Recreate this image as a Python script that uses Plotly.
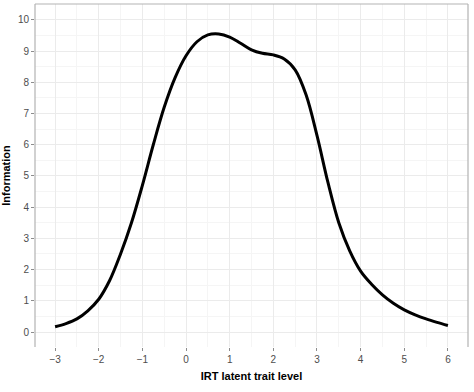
import plotly.graph_objects as go

theta = [-3, -2.75, -2.5, -2.25, -2, -1.75, -1.5, -1.25, -1, -0.75, -0.5, -0.25, 0, 0.25, 0.5, 0.75, 1, 1.25, 1.5, 1.75, 2, 2.25, 2.5, 2.75, 3, 3.25, 3.5, 3.75, 4, 4.25, 4.5, 4.75, 5, 5.25, 5.5, 5.75, 6]
info = [0.17, 0.27, 0.42, 0.68, 1.05, 1.65, 2.5, 3.5, 4.7, 6.0, 7.2, 8.15, 8.85, 9.3, 9.52, 9.55, 9.45, 9.25, 9.04, 8.93, 8.88, 8.75, 8.4, 7.6, 6.3, 4.8, 3.5, 2.6, 1.95, 1.53, 1.19, 0.92, 0.71, 0.55, 0.42, 0.31, 0.21]
x_ticks = [-3, -2, -1, 0, 1, 2, 3, 4, 5, 6]
y_ticks = [0, 1, 2, 3, 4, 5, 6, 7, 8, 9, 10]

fig = go.Figure()
fig.add_trace(go.Scatter(x=theta, y=info, mode="lines",
                         line=dict(color="black", width=3, shape="spline", smoothing=1.0),
                         showlegend=False, hoverinfo="skip"))

axis_common = dict(
    showgrid=True, gridcolor="#ebebeb", gridwidth=1,
    zeroline=False, ticks="outside", ticklen=3, tickcolor="#8c8c8c", tickwidth=1,
    tickfont=dict(family="Liberation Sans, Arial", size=10, color="#4d4d4d"),
    showline=False,
)

fig.update_layout(
    width=474, height=392,
    margin=dict(l=35, r=6, t=4, b=45),
    paper_bgcolor="white", plot_bgcolor="white",
    xaxis=dict(range=[-3.46, 6.46], tickvals=x_ticks,
               minor=dict(showgrid=True, dtick=0.5, tick0=0, gridcolor="#f5f5f5", ticks=""),
               title=dict(text="<b>IRT latent trait level</b>", standoff=8,
                          font=dict(family="Liberation Sans, Arial", size=11, color="black")),
               **axis_common),
    yaxis=dict(range=[-0.48, 10.51], tickvals=y_ticks,
               minor=dict(showgrid=True, dtick=0.5, tick0=0, gridcolor="#f5f5f5", ticks=""),
               title=dict(text="<b>Information</b>", standoff=6,
                          font=dict(family="Liberation Sans, Arial", size=11, color="black")),
               **axis_common),
    shapes=[
        dict(type="line", xref="paper", yref="paper", x0=0, x1=0, y0=0, y1=1, line=dict(color="#b3b3b3", width=1.2)),
        dict(type="line", xref="paper", yref="paper", x0=1, x1=1, y0=0, y1=1, line=dict(color="#b3b3b3", width=1.2)),
        dict(type="line", xref="paper", yref="paper", x0=0, x1=1, y0=1, y1=1, line=dict(color="#b3b3b3", width=1.2)),
    ],
)

fig.write_html("out.html")
